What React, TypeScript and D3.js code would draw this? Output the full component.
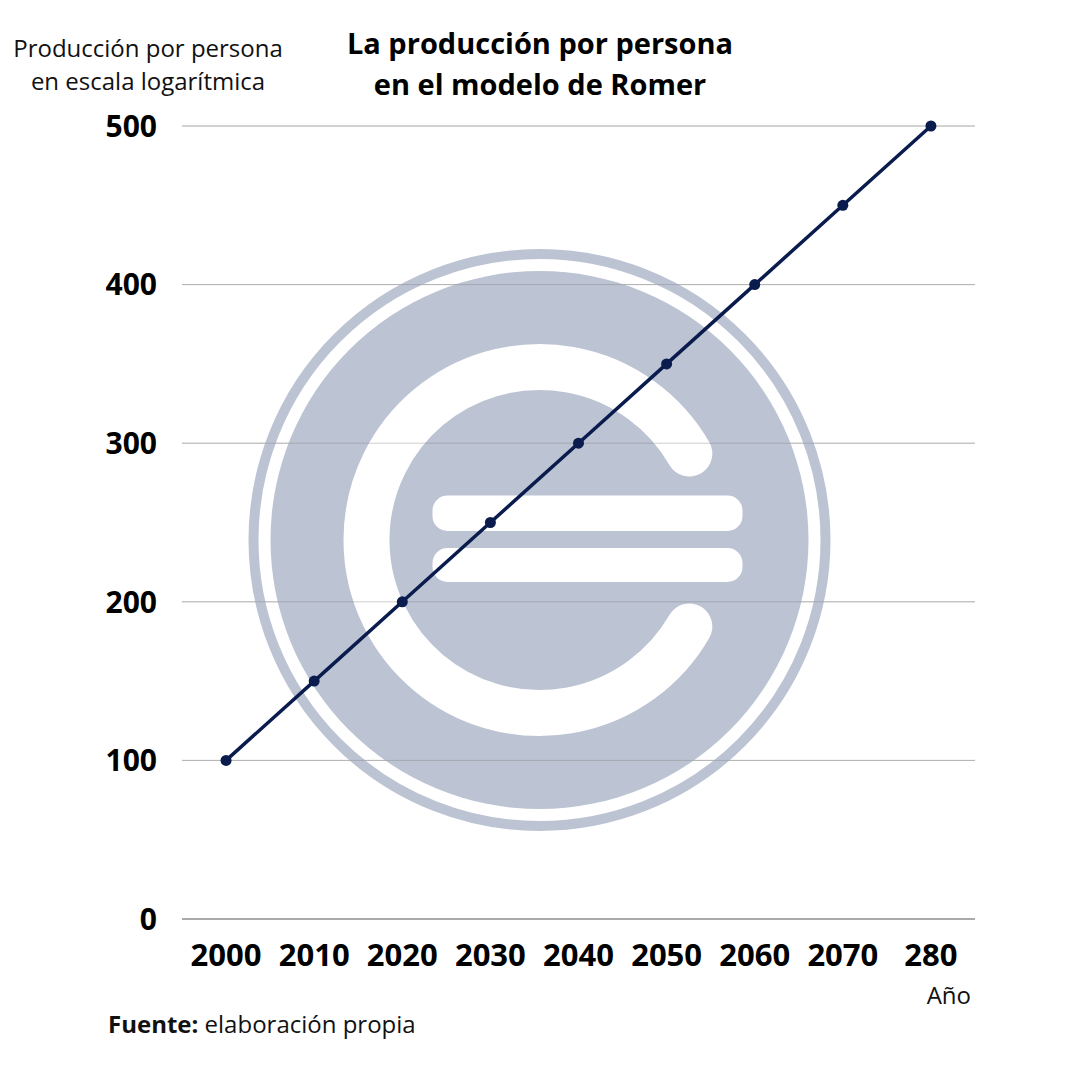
import React from "react";
import * as d3 from "d3";

const years = ["2000", "2010", "2020", "2030", "2040", "2050", "2060", "2070", "280"];
const values = [100, 150, 200, 250, 300, 350, 400, 450, 500];
const yTicks = [0, 100, 200, 300, 400, 500];
const titleLines = ["La producción por persona", "en el modelo de Romer"];
const yLabelLines = ["Producción por persona", "en escala logarítmica"];

const W = 1080;
const H = 1080;
const left = 182;
const right = 975;
const top = 126;
const bottom = 919;
const FONT = "'Open Sans', 'Noto Sans', sans-serif";
const NAVY = "#0a1b4d";
const LOGO = "#bcc3d3";

function Logo({ cx, cy }: { cx: number; cy: number }) {
  const rOuter = 291;
  const ringW = 10;
  const rDisk = 269;
  const cMid = 173;
  const cW = 46;
  const a0 = (-30 * Math.PI) / 180;
  const a1 = (30 * Math.PI) / 180;
  const p0 = [cx + cMid * Math.cos(a0), cy + cMid * Math.sin(a0)];
  const p1 = [cx + cMid * Math.cos(a1), cy + cMid * Math.sin(a1)];
  const arcPath = `M${p0[0]},${p0[1]} A${cMid},${cMid} 0 1 0 ${p1[0]},${p1[1]}`;
  return (
    <g>
      <circle cx={cx} cy={cy} r={rOuter - ringW / 2} fill="none" stroke={LOGO} strokeWidth={ringW} />
      <circle cx={cx} cy={cy} r={rDisk} fill={LOGO} />
      <path d={arcPath} fill="none" stroke="#ffffff" strokeWidth={cW} strokeLinecap="round" />
      <rect x={cx - 107} y={cy - 44.5} width={310} height={35.5} rx={15} fill="#ffffff" />
      <rect x={cx - 107} y={cy + 8} width={310} height={34} rx={15} fill="#ffffff" />
    </g>
  );
}

export default function App() {
  const x = d3.scaleBand<string>().domain(years).range([left, right]).padding(0);
  const y = d3.scaleLinear().domain([0, 500]).range([bottom, top]);
  const cx = (d: string) => (x(d) ?? 0) + x.bandwidth() / 2;
  const data = years.map((d, i) => ({ year: d, value: values[i] }));
  const line = d3
    .line<{ year: string; value: number }>()
    .x((d) => cx(d.year))
    .y((d) => y(d.value));

  return (
    <svg width={W} height={H} style={{ position: "absolute", left: 0, top: 0, background: "#fff" }}>
      <rect x={0} y={0} width={W} height={H} fill="#ffffff" />
      {yTicks.filter((t) => t > 0).map((t) => (
        <line key={t} x1={left} x2={right} y1={y(t)} y2={y(t)} stroke="#d0d0d0" strokeWidth={1} />
      ))}
      <Logo cx={539.5} cy={540} />
      <g opacity={0.35}>
        {yTicks.filter((t) => t > 0).map((t) => (
          <line key={t} x1={left} x2={right} y1={y(t)} y2={y(t)} stroke="#777" strokeWidth={1} />
        ))}
      </g>
      <line x1={left} x2={right} y1={y(0)} y2={y(0)} stroke="#aaaaaa" strokeWidth={2} />
      {yTicks.map((t) => (
        <text key={t} x={157} y={y(t)} dy="0.36em" textAnchor="end" fontFamily={FONT} fontWeight={700} fontSize={30} fill="#000">
          {t}
        </text>
      ))}
      {years.map((d) => (
        <text key={d} x={cx(d)} y={966} textAnchor="middle" fontFamily={FONT} fontWeight={700} fontSize={31} fill="#000">
          {d}
        </text>
      ))}
      <path d={line(data) ?? ""} fill="none" stroke={NAVY} strokeWidth={3.5} />
      {data.map((d) => (
        <circle key={d.year} cx={cx(d.year)} cy={y(d.value)} r={5.5} fill={NAVY} />
      ))}
      {titleLines.map((l, i) => (
        <text key={l} x={540} y={54 + i * 41} textAnchor="middle" fontFamily={FONT} fontWeight={700} fontSize={29} fill="#000">
          {l}
        </text>
      ))}
      {yLabelLines.map((l, i) => (
        <text key={l} x={148} y={57 + i * 33} textAnchor="middle" fontFamily={FONT} fontWeight={400} fontSize={24} fill="#111">
          {l}
        </text>
      ))}
      <text x={971} y={1004} textAnchor="end" fontFamily={FONT} fontSize={24} fill="#111">
        Año
      </text>
      <text x={108} y={1033} fontFamily={FONT} fontSize={24} fill="#111">
        <tspan fontWeight={700}>Fuente:</tspan>
        <tspan> elaboración propia</tspan>
      </text>
    </svg>
  );
}
